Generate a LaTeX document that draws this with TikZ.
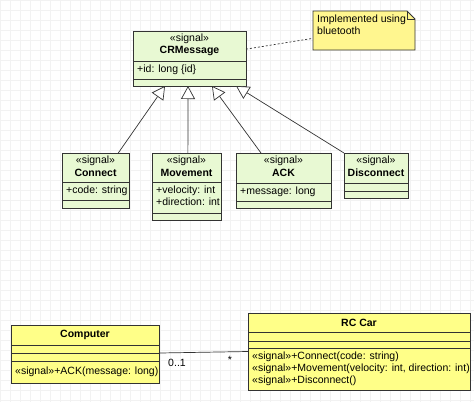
\documentclass[tikz,border=0pt]{standalone}
\usepackage{fontspec}
\setmainfont{Liberation Sans}
\usetikzlibrary{arrows.meta,calc}
\definecolor{sigfill}{HTML}{E8F9D3}
\definecolor{clsfill}{HTML}{FFFF88}
\definecolor{notefill}{HTML}{FFF68F}
\definecolor{edgec}{HTML}{333333}
\definecolor{gridc}{HTML}{F2F2F2}
\begin{document}
\begin{tikzpicture}[x=1pt,y=-1pt,font=\fontsize{10.5}{12}\selectfont,
  box/.style={draw=edgec,line width=0.8pt,anchor=north west,inner sep=0pt,outer sep=0pt},
  sig/.style={box,fill=sigfill},
  cls/.style={box,fill=clsfill},
  sep/.style={draw=edgec,line width=0.8pt},
  ctxt/.style={inner sep=0pt,anchor=center,text=black},
  ltxt/.style={inner sep=0pt,anchor=west,text=black},
  bname/.style={ctxt,font=\fontsize{10.5}{12}\selectfont\bfseries},
  gen/.style={draw=edgec,line width=0.7pt,-{Triangle[open,length=13pt,width=14pt,fill=white]}},
  assoc/.style={draw=edgec,line width=0.7pt},
  dotc/.style={draw=edgec,line width=0.7pt,dash pattern=on 2pt off 2pt}]
\useasboundingbox (0,0) rectangle (474,402);
\fill[white] (0,0) rectangle (474,402);
\draw[gridc,line width=0.5pt,step=10pt] (0,0) grid (474,402);

% CRMessage
\node[sig,minimum width=113pt,minimum height=55pt] (CR) at (133,31) {};
\draw[sep] (133,61) -- (246,61);
\draw[sep] (133,79) -- (246,79);
\node[ctxt] (CRs) at (189.5,39) {«signal»};
\node[bname] (CRn) at (189.5,51) {CRMessage};
\node[ltxt] (CRa) at (137,70) {+id: long \{id\}};

% Note
\node[inner sep=0pt,outer sep=0pt,anchor=north west,minimum width=102pt,minimum height=39pt] (note) at (313,11) {};
\draw[edgec,line width=0.8pt,fill=notefill] (313,11) -- (407,11) -- (415,19) -- (415,50) -- (313,50) -- cycle;
\draw[edgec,line width=0.8pt] (407,11) -- (407,19) -- (415,19);
\node[ltxt] (notet1) at (317,20) {Implemented using};
\node[ltxt] (notet2) at (317,31) {bluetooth};
\draw[dotc] ($(CR.north east)!0.33!(CR.south east)$) -- ($(note.north west)!0.7!(note.south west)$);

% Connect
\node[sig,minimum width=67pt,minimum height=55pt] (Con) at (62,153) {};
\draw[sep] (62,182) -- (129,182);
\draw[sep] (62,200) -- (129,200);
\node[ctxt] (Cons) at (95.5,161) {«signal»};
\node[bname] (Conn) at (95.5,173) {Connect};
\node[ltxt] (Cona) at (66,191) {+code: string};

% Movement
\node[sig,minimum width=69pt,minimum height=67pt] (Mov) at (152,153) {};
\draw[sep] (152,182) -- (221,182);
\draw[sep] (152,213) -- (221,213);
\node[ctxt] (Movs) at (186.5,161) {«signal»};
\node[bname] (Movn) at (186.5,173) {Movement};
\node[ltxt] (Mova) at (156,190.5) {+velocity: int};
\node[ltxt] (Movb) at (156,202) {+direction: int};

% ACK
\node[sig,minimum width=95pt,minimum height=55pt] (ACK) at (236,153) {};
\draw[sep] (236,183) -- (331,183);
\draw[sep] (236,201) -- (331,201);
\node[ctxt] (ACKs) at (283.5,161) {«signal»};
\node[bname] (ACKn) at (283.5,173) {ACK};
\node[ltxt] (ACKa) at (240,192) {+message: long};

% Disconnect
\node[sig,minimum width=64pt,minimum height=45pt] (Dis) at (344,153) {};
\draw[sep] (344,183) -- (408,183);
\draw[sep] (344,191) -- (408,191);
\node[ctxt] (Diss) at (376,161) {«signal»};
\node[bname] (Disn) at (376,173) {Disconnect};

% generalizations
\draw[gen] ($(Con.north west)!0.84!(Con.north east)$) -- ($(CR.south west)!0.283!(CR.south east)$);
\draw[gen] ($(Mov.north west)!0.52!(Mov.north east)$) -- ($(CR.south west)!0.487!(CR.south east)$);
\draw[gen] ($(ACK.north west)!0.263!(ACK.north east)$) -- ($(CR.south west)!0.699!(CR.south east)$);
\draw[gen] (Dis.north west) -- ($(CR.south west)!0.912!(CR.south east)$);

% Computer
\node[cls,minimum width=148pt,minimum height=58pt] (Comp) at (11,325) {};
\draw[sep] (11,345) -- (159,345);
\draw[sep] (11,353) -- (159,353);
\draw[sep] (11,361) -- (159,361);
\node[bname] (Compn) at (85,335) {Computer};
\node[ltxt] (Compa) at (15,371.5) {«signal»+ACK(message: long)};

% RC Car
\node[cls,minimum width=222pt,minimum height=77pt] (Car) at (248,313) {};
\draw[sep] (248,332) -- (470,332);
\draw[sep] (248,341) -- (470,341);
\draw[sep] (248,348) -- (470,348);
\node[bname] (Carn) at (359,322.5) {RC Car};
\node[ltxt] (Cara) at (252,356.5) {«signal»+Connect(code: string)};
\node[ltxt] (Carb) at (252,368.5) {«signal»+Movement(velocity: int, direction: int)};
\node[ltxt] (Carc) at (252,380.5) {«signal»+Disconnect()};

% association
\draw[assoc] ($(Comp.north east)!0.483!(Comp.south east)$) -- ($(Car.north west)!0.5!(Car.south west)$);
\node[ctxt] (m1) at (177,363) {0..1};
\node[ctxt] (m2) at (230,360) {*};
\end{tikzpicture}
\end{document}
